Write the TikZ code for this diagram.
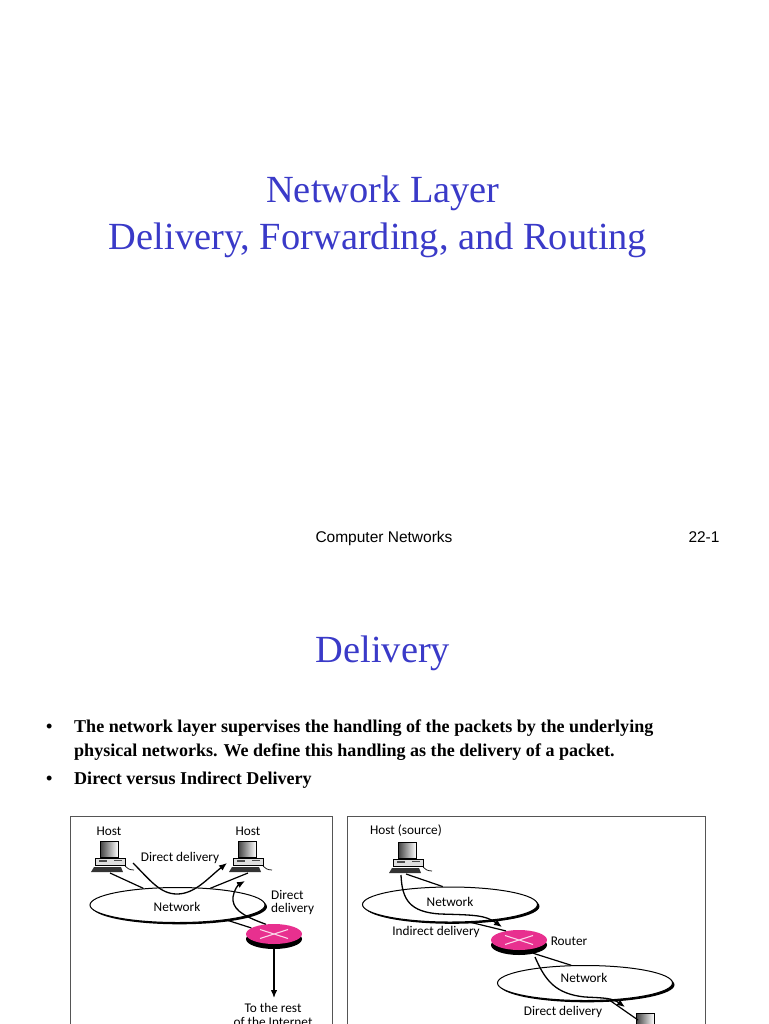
\documentclass[tikz,border=0pt]{standalone}
\usepackage{fontspec}
\setmainfont{Liberation Serif}
\newfontfamily\labelfont{Carlito}
\newfontfamily\footfont{Liberation Sans}
\usetikzlibrary{arrows.meta,shapes.geometric,shadows}
\definecolor{titleblue}{HTML}{3A3AC8}
\definecolor{routerpink}{HTML}{E8308F}
\definecolor{framegray}{HTML}{555555}
\tikzset{
  slidetitle/.style={anchor=base,inner sep=0pt,titleblue,font=\fontsize{38.4}{38.4}\selectfont},
  foot/.style={anchor=base,inner sep=0pt,font=\footfont\fontsize{15.5}{15.5}\selectfont},
  body/.style={anchor=base west,inner sep=0pt,font=\bfseries\fontsize{18.05}{18.05}\selectfont},
  lab/.style={inner sep=0pt,font=\labelfont\fontsize{13.3}{13.3}\selectfont},
  netcloud/.style={draw,ellipse,fill=white,line width=1pt,minimum width=175pt,minimum height=35pt,inner sep=0pt,
    general shadow={shadow xshift=2pt,shadow yshift=-1.8pt,fill=black}},
  routerbox/.style={draw=none,ellipse,fill=routerpink,minimum width=56pt,minimum height=20pt,inner sep=0pt,
    general shadow={shadow xshift=0pt,shadow yshift=-5pt,fill=black},
    path picture={
      \draw[white!80!routerpink,line width=1.1pt] (path picture bounding box.center) +(-14,-4.5) -- +(14,4.5)
        (path picture bounding box.center) +(-14,4.5) -- +(14,-4.5);}},
  link/.style={line width=1.2pt},
  delivery/.style={line width=1.3pt,-{Latex[length=8pt,width=6.5pt]}},
  hostpc/.pic={
    \shade[left color=black!75,right color=white,draw=black,line width=1pt] (-9,-17) rectangle (9,-1);
    \draw[fill=black!12,line width=0.7pt] (-14,0) rectangle (16,7);
    \fill[black!70] (-10,2) rectangle (-2,4);
    \fill[black!70] (5,2) rectangle (13,3);
    \fill[black!80] (-15,9) -- (12,9) -- (14,14) -- (-18,14) -- cycle;
    \draw[line width=0.7pt] (16,8) .. controls (18,10) and (20,12) .. (25,12);
    \coordinate (-port) at (1,15);
  }
}

\begin{document}
\begin{tikzpicture}[x=1pt,y=-1pt]
  \clip (0,0) rectangle (768,1024);

  \node[slidetitle] (title1) at (383,203) {Network Layer};
  \node[slidetitle] (title2) at (378,249) {Delivery, Forwarding, and Routing};
  \node[foot] (footl) at (384,542) {Computer Networks};
  \node[foot] (footr) at (704,542) {22-1};
  \node[slidetitle] (title3) at (383,662) {Delivery};

  \node[body] (bul1) at (46,732) {•};
  \node[body] (txt1) at (74,732) {The network layer supervises the handling of the packets by the underlying};
  \node[body] (txt2) at (74,756) {physical networks. We define this handling as the delivery of a packet.};
  \node[body] (bul2) at (46,784) {•};
  \node[body] (txt3) at (74,784) {Direct versus Indirect Delivery};

  \node[draw=framegray,line width=1pt,minimum width=262pt,minimum height=230pt,inner sep=0pt,anchor=north west] (frameA) at (70,816) {};
  \node[draw=framegray,line width=1pt,minimum width=358pt,minimum height=230pt,inner sep=0pt,anchor=north west] (frameB) at (347,816) {};

  % left panel
  \node[lab] (hostA) at (109,831) {Host};
  \node[lab] (hostB) at (248,831) {Host};
  \pic (pcA) at (109,858) {hostpc};
  \pic (pcB) at (247,858) {hostpc};
  \node[netcloud] (netA) at (177.5,905) {};
  \node[routerbox] (routerA) at (274,934) {};
  \node[lab] (netAlab) at (177,907) {Network};
  \node[lab] (dirA) at (180,858) {Direct delivery};
  \node[lab,anchor=west] (dirB) at (271,895) {Direct};
  \node[lab,anchor=west] (dirC) at (271,909) {delivery};
  \node[lab,align=center,anchor=north] (rest) at (273,1003) {To the rest\\[1pt]of the Internet};
  \coordinate (restend) at (274,998);
  \coordinate (dirAfrom) at (133,863);
  \coordinate (dirAto) at (227,863);
  \coordinate (dirBto) at (245,881);

  \draw[link] (pcA-port) -- (netA.154);
  \draw[link] (pcB-port) -- (netA.27);
  \draw[link] (routerA.165) -- (netA.343);
  \draw[delivery] (routerA.south) ++(0,5) -- (restend);
  \draw[delivery] (dirAfrom) .. controls (150,880) and (160,894) .. (177,894)
    .. controls (195,894) and (208,878) .. (dirAto);
  \draw[delivery] (routerA.130) .. controls (240,915) and (232,908) .. (233,897)
    .. controls (234,890) and (238,885) .. (dirBto);

  % right panel
  \node[lab] (hostC) at (406,831) {Host (source)};
  \pic (pcC) at (407,859) {hostpc};
  \node[netcloud] (netB) at (450,904.5) {};
  \node[routerbox] (routerB) at (519,940) {};
  \node[netcloud] (netC) at (585,983) {};
  \pic (pcD) at (645,1030) {hostpc};
  \node[lab] (netBlab) at (450,902) {Network};
  \node[lab] (netClab) at (584,978) {Network};
  \node[lab] (indir) at (436,932) {Indirect delivery};
  \node[lab] (routerlab) at (569,941) {Router};
  \node[lab] (dirD) at (563,1012) {Direct delivery};
  \coordinate (indirfrom) at (401,875);
  \coordinate (indirto) at (502,927);
  \coordinate (dirDfrom) at (535,957);
  \coordinate (dirDto) at (625,1007);
  \coordinate (pcDport) at (638,1020);

  \draw[link] (pcC-port) ++(-2,0) -- (netB.112);
  \draw[link] (netB.318) -- (routerB.145);
  \draw[link] (routerB.south) ++(14,3) -- (netC.128);
  \draw[link] (netC.325) -- (pcDport);
  \draw[delivery] (indirfrom) .. controls (402,900) and (410,912) .. (440,914)
    .. controls (475,915) and (485,915) .. (indirto);
  \draw[delivery] (dirDfrom) .. controls (545,980) and (555,994) .. (585,997)
    .. controls (605,998) and (612,998) .. (dirDto);
\end{tikzpicture}
\end{document}
